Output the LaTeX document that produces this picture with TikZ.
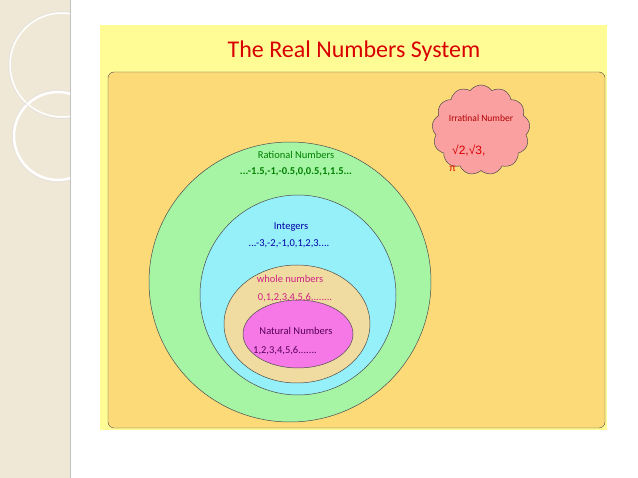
\documentclass[tikz,border=0pt]{standalone}
\usepackage{fontspec}
\setmainfont{Carlito}
\newfontfamily\arial{Liberation Sans}
\usetikzlibrary{shapes.symbols,shapes.geometric}
\definecolor{slideY}{RGB}{255,252,150}
\definecolor{boxO}{RGB}{253,218,120}
\definecolor{ratG}{RGB}{165,245,165}
\definecolor{intC}{RGB}{150,240,250}
\definecolor{wholeT}{RGB}{240,220,160}
\definecolor{natP}{RGB}{245,120,230}
\definecolor{cloudP}{RGB}{250,160,160}
\definecolor{stripB}{RGB}{240,232,215}
\begin{document}
\begin{tikzpicture}[x=1pt,y=-1pt,
  lab/.style={font=\fontsize{10.5}{12}\selectfont,inner sep=0pt},
  ring/.style={draw=black!70,line width=0.5pt}]
\useasboundingbox (0,0) rectangle (638,478);
\fill[white] (0,0) rectangle (638,478);
\fill[stripB] (0,0) rectangle (70,478);
\draw[black!25] (70,0) -- (70,478);
\begin{scope}
\clip (0,0) rectangle (70,478);
\draw[white,line width=1.5pt] (62,65) circle (52);
\draw[white,line width=2.5pt] (58,136) circle (44);
\draw[black!12,line width=0.4pt] (62,65) circle (53.5);
\draw[black!12,line width=0.4pt] (58,136) circle (46);
\end{scope}
\fill[slideY] (100,25) rectangle (607,430);
\node[text=red!85!black,font=\fontsize{24}{26}\selectfont] (title) at (354,51) {The Real Numbers System};
\draw[black!70,fill=boxO,rounded corners=6pt] (108,72) rectangle (605,428);
\node[ring,fill=ratG,ellipse,minimum width=282,minimum height=280] (rat) at (290,282) {};
\node[ring,fill=intC,ellipse,minimum width=196,minimum height=200] (int) at (298,295) {};
\node[ring,fill=wholeT,ellipse,minimum width=146,minimum height=118] (whole) at (297,324) {};
\node[ring,fill=natP,ellipse,minimum width=110,minimum height=68] (nat) at (298,334) {};
\node[ring,fill=cloudP,cloud,cloud puffs=13,cloud puff arc=110,aspect=1.1,minimum width=98,minimum height=90] (irr) at (481,130) {};
\node[lab,text=green!50!black] (t1) at (296,155) {Rational Numbers};
\node[lab,text=green!50!black,font=\bfseries\fontsize{10.5}{12}\selectfont] (v1) at (296,172) {...-1.5,-1,-0.5,0,0.5,1,1.5...};
\node[lab,text=blue!65!black] (t2) at (291,227) {Integers};
\node[lab,text=blue!65!black] (v2) at (289,244) {...-3,-2,-1,0,1,2,3....};
\node[lab,text=magenta!85!black] (t3) at (290,279) {whole numbers};
\node[lab,text=magenta!85!black] (v3) at (295,298) {0,1,2,3,4,5,6,.......};
\node[lab,text=violet!70!black] (t4) at (296,331) {Natural Numbers};
\node[lab,text=violet!70!black] (v4) at (285,351) {1,2,3,4,5,6.......};
\node[lab,text=red!70!black,font=\fontsize{9.5}{11}\selectfont] (t5) at (481,118) {Irratinal Number};
\node[inner sep=0pt,text=red!85!black,font=\arial\fontsize{12}{13}\selectfont,anchor=west] (v5) at (452,151) {√2,√3,};
\node[inner sep=0pt,text=red!85!black,font=\arial\fontsize{10}{12}\selectfont,anchor=west] (v6) at (449,169) {π};
\end{tikzpicture}
\end{document}
